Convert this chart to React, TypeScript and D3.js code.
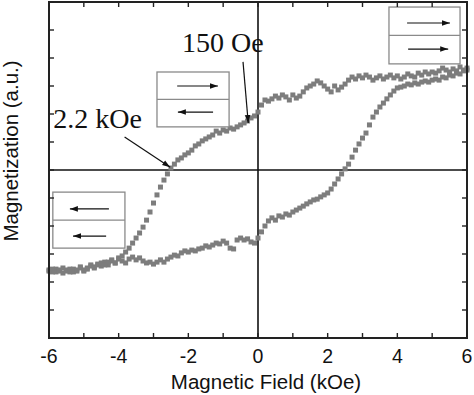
import React, { useRef, useEffect } from 'react';
import * as d3 from 'd3';

// field sweep from +6 kOe down to -6 kOe: [field (kOe), magnetization (a.u.)]
const sweepDown: [number, number][] = [
  [6.0, 3.64], [5.9, 3.57], [5.8, 3.68], [5.7, 3.54], [5.6, 3.61], [5.5, 3.5], [5.4, 3.57], [5.3, 3.64],
  [5.2, 3.54], [5.1, 3.46], [5.0, 3.5], [4.9, 3.43], [4.8, 3.5], [4.7, 3.39], [4.6, 3.46], [4.5, 3.32],
  [4.4, 3.36], [4.3, 3.43], [4.2, 3.32], [4.1, 3.25], [4.0, 3.36], [3.9, 3.29], [3.8, 3.39], [3.7, 3.32],
  [3.6, 3.25], [3.5, 3.36], [3.4, 3.29], [3.3, 3.21], [3.2, 3.32], [3.1, 3.39], [3.0, 3.29], [2.9, 3.36],
  [2.8, 3.25], [2.7, 3.32], [2.6, 3.21], [2.5, 3.07], [2.4, 2.96], [2.3, 2.86], [2.2, 3.0], [2.1, 2.79],
  [2.0, 2.89], [1.9, 3.0], [1.8, 3.11], [1.7, 3.18], [1.6, 3.07], [1.5, 3.0], [1.4, 2.93], [1.3, 2.79],
  [1.2, 2.64], [1.1, 2.57], [1.0, 2.68], [0.9, 2.5], [0.8, 2.61], [0.7, 2.68], [0.6, 2.57], [0.5, 2.64],
  [0.4, 2.54], [0.3, 2.46], [0.2, 2.5], [0.1, 2.32], [0.0, 2.07], [-0.1, 1.93], [-0.2, 1.86], [-0.3, 1.75],
  [-0.4, 1.68], [-0.5, 1.61], [-0.6, 1.54], [-0.7, 1.46], [-0.8, 1.5], [-0.9, 1.39], [-1.0, 1.43], [-1.1, 1.32],
  [-1.2, 1.39], [-1.3, 1.25], [-1.4, 1.18], [-1.5, 1.11], [-1.6, 1.04], [-1.7, 0.93], [-1.8, 0.86], [-1.9, 0.71],
  [-2.0, 0.61], [-2.1, 0.54], [-2.2, 0.43], [-2.3, 0.36], [-2.4, 0.21], [-2.5, 0.07], [-2.6, -0.14], [-2.7, -0.36],
  [-2.8, -0.61], [-2.9, -0.89], [-3.0, -1.18], [-3.1, -1.5], [-3.2, -1.79], [-3.3, -2.04], [-3.4, -2.25], [-3.5, -2.43],
  [-3.6, -2.61], [-3.7, -2.79], [-3.8, -2.93], [-3.9, -3.07], [-4.0, -3.18], [-4.1, -3.32], [-4.2, -3.25], [-4.3, -3.39],
  [-4.4, -3.29], [-4.5, -3.43], [-4.6, -3.36], [-4.7, -3.46], [-4.8, -3.39], [-4.9, -3.5], [-5.0, -3.57], [-5.1, -3.46],
  [-5.2, -3.61], [-5.3, -3.54], [-5.4, -3.64], [-5.5, -3.57], [-5.6, -3.5], [-5.7, -3.61], [-5.8, -3.54], [-5.9, -3.64],
  [-6.0, -3.57],
];

// field sweep from -6 kOe up to +6 kOe
const sweepUp: [number, number][] = [
  [-6.0, -3.61], [-5.9, -3.54], [-5.8, -3.64], [-5.7, -3.57], [-5.6, -3.68], [-5.5, -3.61], [-5.4, -3.54], [-5.3, -3.64],
  [-5.2, -3.57], [-5.1, -3.5], [-5.0, -3.61], [-4.9, -3.54], [-4.8, -3.43], [-4.7, -3.5], [-4.6, -3.39], [-4.5, -3.32],
  [-4.4, -3.39], [-4.3, -3.29], [-4.2, -3.21], [-4.1, -3.32], [-4.0, -3.14], [-3.9, -3.25], [-3.8, -3.32], [-3.7, -3.18],
  [-3.6, -3.11], [-3.5, -3.21], [-3.4, -3.14], [-3.3, -3.25], [-3.2, -3.32], [-3.1, -3.29], [-3.0, -3.36], [-2.9, -3.29],
  [-2.8, -3.21], [-2.7, -3.29], [-2.6, -3.18], [-2.5, -3.11], [-2.4, -3.04], [-2.3, -3.07], [-2.2, -2.96], [-2.1, -2.89],
  [-2.0, -2.93], [-1.9, -2.86], [-1.8, -2.89], [-1.7, -2.82], [-1.6, -2.79], [-1.5, -2.71], [-1.4, -2.75], [-1.3, -2.68],
  [-1.2, -2.61], [-1.1, -2.64], [-1.0, -2.54], [-0.9, -2.61], [-0.8, -2.79], [-0.7, -2.82], [-0.6, -2.5], [-0.5, -2.43],
  [-0.4, -2.5], [-0.3, -2.46], [-0.2, -2.57], [-0.1, -2.61], [0.0, -2.43], [0.1, -2.21], [0.2, -2.0], [0.3, -1.82],
  [0.4, -1.71], [0.5, -1.79], [0.6, -1.64], [0.7, -1.68], [0.8, -1.57], [0.9, -1.61], [1.0, -1.5], [1.1, -1.43],
  [1.2, -1.36], [1.3, -1.29], [1.4, -1.21], [1.5, -1.14], [1.6, -1.07], [1.7, -1.04], [1.8, -0.96], [1.9, -0.89],
  [2.0, -0.82], [2.1, -0.68], [2.2, -0.5], [2.3, -0.32], [2.4, -0.14], [2.5, 0.04], [2.6, 0.21], [2.7, 0.46],
  [2.8, 0.71], [2.9, 0.93], [3.0, 1.14], [3.1, 1.32], [3.2, 1.61], [3.3, 1.89], [3.4, 2.07], [3.5, 2.25],
  [3.6, 2.39], [3.7, 2.54], [3.8, 2.68], [3.9, 2.82], [4.0, 2.93], [4.1, 2.96], [4.2, 3.0], [4.3, 3.07],
  [4.4, 3.04], [4.5, 3.11], [4.6, 3.07], [4.7, 3.14], [4.8, 3.18], [4.9, 3.14], [5.0, 3.21], [5.1, 3.25],
  [5.2, 3.21], [5.3, 3.32], [5.4, 3.29], [5.5, 3.39], [5.6, 3.36], [5.7, 3.46], [5.8, 3.43], [5.9, 3.54],
  [6.0, 3.57],
];

const xTickLabels = [-6, -4, -2, 0, 2, 4, 6];
const xMinorTicks = [-6, -5, -4, -3, -2, -1, 0, 1, 2, 3, 4, 5, 6];
const yTicks = [-6, -5, -4, -3, -2, -1, 0, 1, 2, 3, 4, 5, 6];

// inset diagrams: box in data units, arrows as [from, to, level] for the two layers
interface Inset { x0: number; x1: number; yTop: number; yBot: number; top: [number, number, number]; bottom: [number, number, number]; }
const insets: Inset[] = [
  { x0: -2.9, x1: -0.83, yTop: 3.5, yBot: 1.54, top: [-2.32, -1.15, 3.0], bottom: [-1.29, -2.3, 2.07] },
  { x0: 3.76, x1: 5.8, yTop: 5.82, yBot: 3.79, top: [4.28, 5.51, 5.25], bottom: [4.31, 5.46, 4.32] },
  { x0: -5.89, x1: -3.82, yTop: -0.79, yBot: -2.79, top: [-4.28, -5.4, -1.39], bottom: [-4.36, -5.31, -2.36] },
];

// text callouts: label position and arrow [from, to] in data units
const callouts = [
  { text: '150 Oe', lx: -2.18, ly: 4.23, ax: [-0.43, 3.86], bx: [-0.28, 1.68] },
  { text: '2.2 kOe', lx: -5.88, ly: 1.5, ax: [-3.83, 1.18], bx: [-2.52, 0.1] },
];

const App: React.FC = () => {
  const svgRef = useRef<SVGSVGElement>(null);

  useEffect(() => {
    if (!svgRef.current) return;
    const svg = d3.select(svgRef.current);
    svg.selectAll('*').remove();

    const x = d3.scaleLinear().domain([-6, 6]).range([49, 467]);
    const y = d3.scaleLinear().domain([-6, 6]).range([338, 2]);

    const defs = svg.append('defs');
    defs.append('marker')
      .attr('id', 'head')
      .attr('viewBox', '0 0 10 10')
      .attr('refX', 10).attr('refY', 5)
      .attr('markerWidth', 8).attr('markerHeight', 8)
      .attr('markerUnits', 'userSpaceOnUse')
      .attr('orient', 'auto')
      .append('path').attr('d', 'M0,1.5 L10,5 L0,8.5 Z').attr('fill', '#111');

    // zero lines
    svg.append('line')
      .attr('x1', x(-6)).attr('x2', x(6)).attr('y1', y(0)).attr('y2', y(0))
      .attr('stroke', '#111').attr('stroke-width', 1.6);
    svg.append('line')
      .attr('x1', x(0)).attr('x2', x(0)).attr('y1', y(-6)).attr('y2', y(6))
      .attr('stroke', '#111').attr('stroke-width', 1.6);

    // data points
    const s = 5;
    const pts = svg.append('g').attr('fill', '#7d7d7d');
    [sweepDown, sweepUp].forEach(series => {
      pts.selectAll(null)
        .data(series)
        .enter().append('rect')
        .attr('x', d => x(d[0]) - s / 2)
        .attr('y', d => y(d[1]) - s / 2)
        .attr('width', s)
        .attr('height', s);
    });

    // insets
    insets.forEach(b => {
      const g = svg.append('g');
      const yMid = (b.yTop + b.yBot) / 2;
      g.append('rect')
        .attr('x', x(b.x0)).attr('y', y(b.yTop))
        .attr('width', x(b.x1) - x(b.x0)).attr('height', y(b.yBot) - y(b.yTop))
        .attr('fill', 'white').attr('stroke', '#8a8a8a').attr('stroke-width', 1.3);
      g.append('line')
        .attr('x1', x(b.x0)).attr('x2', x(b.x1)).attr('y1', y(yMid)).attr('y2', y(yMid))
        .attr('stroke', '#8a8a8a').attr('stroke-width', 1.3);
      [b.top, b.bottom].forEach(a => {
        g.append('line')
          .attr('x1', x(a[0])).attr('x2', x(a[1])).attr('y1', y(a[2])).attr('y2', y(a[2]))
          .attr('stroke', '#111').attr('stroke-width', 1.2)
          .attr('marker-end', 'url(#head)');
      });
    });

    // callouts
    callouts.forEach(c => {
      svg.append('text')
        .attr('x', x(c.lx)).attr('y', y(c.ly))
        .attr('font-family', '"Liberation Serif", "DejaVu Serif", serif')
        .attr('font-size', 28).attr('fill', '#111')
        .text(c.text);
      svg.append('line')
        .attr('x1', x(c.ax[0])).attr('y1', y(c.ax[1]))
        .attr('x2', x(c.bx[0])).attr('y2', y(c.bx[1]))
        .attr('stroke', '#111').attr('stroke-width', 1.2)
        .attr('marker-end', 'url(#head)');
    });

    // frame and ticks (inward on all four sides)
    const frame = svg.append('g').attr('stroke', '#222').attr('stroke-width', 2);
    frame.append('rect')
      .attr('x', x(-6)).attr('y', y(6))
      .attr('width', x(6) - x(-6)).attr('height', y(-6) - y(6))
      .attr('fill', 'none');
    xMinorTicks.forEach(t => {
      frame.append('line').attr('x1', x(t)).attr('x2', x(t)).attr('y1', y(-6)).attr('y2', y(-6) - 5).attr('stroke-width', 1.4);
      frame.append('line').attr('x1', x(t)).attr('x2', x(t)).attr('y1', y(6)).attr('y2', y(6) + 5).attr('stroke-width', 1.4);
    });
    yTicks.forEach(t => {
      frame.append('line').attr('x1', x(-6)).attr('x2', x(-6) + 5).attr('y1', y(t)).attr('y2', y(t)).attr('stroke-width', 1.4);
      frame.append('line').attr('x1', x(6)).attr('x2', x(6) - 5).attr('y1', y(t)).attr('y2', y(t)).attr('stroke-width', 1.4);
    });

    const sans = '"Liberation Sans", Arial, sans-serif';
    svg.append('g')
      .selectAll('text')
      .data(xTickLabels)
      .enter().append('text')
      .attr('x', d => x(d))
      .attr('y', 363)
      .attr('text-anchor', 'middle')
      .attr('font-family', sans).attr('font-size', 19.5).attr('fill', '#111')
      .text(d => String(d));

    svg.append('text')
      .attr('x', 266).attr('y', 389)
      .attr('text-anchor', 'middle')
      .attr('font-family', sans).attr('font-size', 20.5).attr('fill', '#111')
      .text('Magnetic Field (kOe)');

    svg.append('text')
      .attr('transform', 'translate(18,151) rotate(-90)')
      .attr('text-anchor', 'middle')
      .attr('font-family', sans).attr('font-size', 20.5).attr('fill', '#111')
      .text('Magnetization (a.u.)');
  }, []);

  return (
    <svg ref={svgRef} width={474} height={395} style={{ position: 'absolute', left: 0, top: 0, background: 'white' }} />
  );
};

export default App;
